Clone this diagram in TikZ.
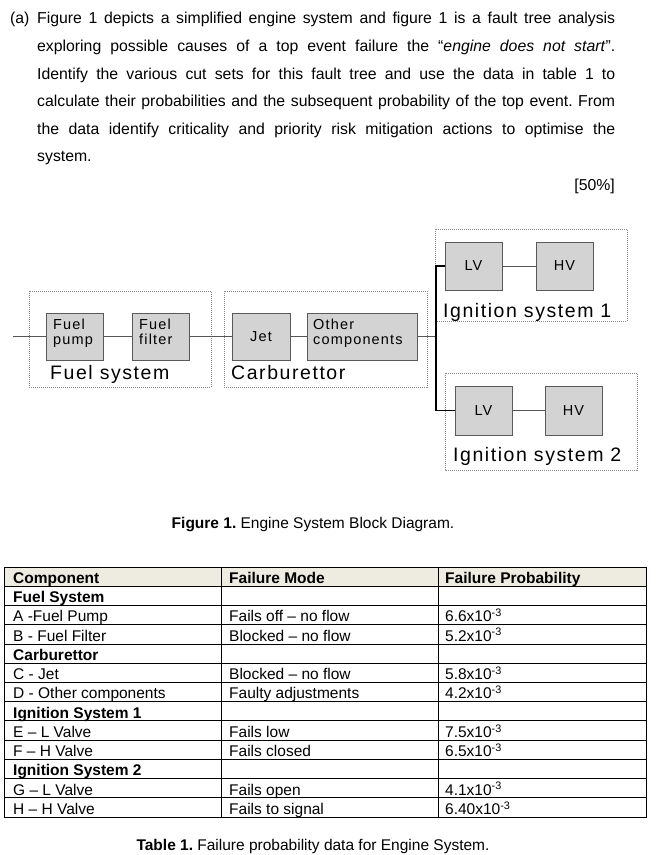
\documentclass[tikz,border=0pt]{standalone}
\usepackage{fontspec}
\setmainfont{Liberation Sans}
\newfontfamily\blockfont[LetterSpace=8]{Liberation Sans}
\newfontfamily\groupfont[LetterSpace=8]{Liberation Sans}
\usepackage{tikz}
\definecolor{blockGray}{RGB}{211, 211, 211}
\definecolor{blockEdge}{RGB}{90, 90, 90}
\definecolor{groupEdge}{RGB}{140, 140, 140}
\definecolor{wireGray}{RGB}{85, 85, 85}
\definecolor{headBg}{RGB}{238, 236, 225}
\frenchspacing
\tikzset{
  block/.style={draw=blockEdge, fill=blockGray, line width=0.9pt, minimum width=57pt,
    minimum height=47pt, inner sep=0pt, font=\blockfont\fontsize{14.5}{15}\selectfont},
  blocktext/.style={anchor=north west, align=left, inner sep=0pt,
    font=\blockfont\fontsize{14.5}{15}\selectfont},
  group/.style={draw=groupEdge, line width=0.6pt, dash pattern=on 1pt off 1pt},
  grouplabel/.style={anchor=base west, inner sep=0pt, font=\groupfont\fontsize{19.5}{22}\selectfont},
  wire/.style={draw=wireGray, line width=0.9pt},
  junction/.style={draw=black, line width=1.1pt},
  cell/.style={anchor=base west, inner sep=0pt, font=\fontsize{15.5}{18}\selectfont},
  caption/.style={anchor=base, inner sep=0pt, font=\fontsize{15.5}{18}\selectfont},
  question/.style={inner sep=0pt, font=\fontsize{15.8}{27.6}\selectfont}
}
\begin{document}
\begin{tikzpicture}[x=1pt, y=-1pt]
  \useasboundingbox (0,0) rectangle (670,855);

  \node[question, anchor=base west] (qlabel) at (10,23.8) {(a)};
  \node[question, anchor=base west, text width=578pt, align=justify] (qtext) at (37,23.8)
    {Figure 1 depicts a simplified engine system and figure 1 is a fault tree analysis\linebreak
     exploring possible causes of a top event failure the “\textit{engine does not start}”.\linebreak
     Identify the various cut sets for this fault tree and use the data in table 1 to\linebreak
     calculate their probabilities and the subsequent probability of the top event. From\linebreak
     the data identify criticality and priority risk mitigation actions to optimise the\linebreak
     system.};
  \node[question, anchor=base east] (weight) at (615,190.5) {[50\%]};

  \draw[group] (29,291) rectangle (211,387);
  \draw[group] (224,291) rectangle (427,387);
  \draw[group] (435,229) rectangle (627,321);
  \draw[group] (445,373) rectangle (637,470);

  \node[block] (pump) at (74.5,336.5) {};
  \node[block] (filter) at (160.5,336.5) {};
  \node[block, minimum width=58pt] (jet) at (261,336.5) {Jet};
  \node[block, minimum width=110pt] (other) at (362,336.5) {};
  \node[block, minimum height=48pt] (lv1) at (473.5,266) {LV};
  \node[block, minimum height=48pt] (hv1) at (564.5,266) {HV};
  \node[block, minimum height=49pt] (lv2) at (483.5,410.5) {LV};
  \node[block, minimum height=49pt] (hv2) at (573.5,410.5) {HV};

  \node[blocktext] (pump-t) at (53,318.4) {Fuel\\pump};
  \node[blocktext] (filter-t) at (139,318.4) {Fuel\\filter};
  \node[blocktext] (other-t) at (313,318.4) {Other\\components};

  \node[grouplabel] (fuel-l) at (50,379) {Fuel system};
  \node[grouplabel] (carb-l) at (231,379) {Carburettor};
  \node[grouplabel] (ign1-l) at (443,317) {Ignition system 1};
  \node[grouplabel] (ign2-l) at (453,461.5) {Ignition system 2};

  \coordinate (in) at (13,336.5);
  \coordinate (jn) at (436,336.5);
  \draw[wire] (in) -- (pump);
  \draw[wire] (pump) -- (filter);
  \draw[wire] (filter) -- (jet);
  \draw[wire] (jet) -- (other);
  \draw[wire] (other) -- (jn);
  \draw[junction] (lv1.west) -| (jn) |- (lv2.west);
  \draw[wire] (lv1) -- (hv1);
  \draw[wire] (lv2) -- (hv2);

  \node[caption] (figcap) at (313,528) {\textbf{Figure 1.} Engine System Block Diagram.};

  \fill[headBg] (4,567) rectangle (646,586.2);
  \foreach \r in {1,...,12}
    \draw[line width=0.7pt] (4,{567+19.23*\r}) -- (646,{567+19.23*\r});
  \foreach \x in {221,438}
    \draw[line width=0.7pt] (\x,567) -- (\x,817);
  \draw[line width=0.9pt] (4,567) rectangle (646,817);

  \foreach \comp/\mode/\prob [count=\r from 0] in {
      {\textbf{Component}}/{\textbf{Failure Mode}}/{\textbf{Failure Probability}},
      {\textbf{Fuel System}}/{}/{},
      {A -Fuel Pump}/{Fails off – no flow}/{6.6x10\textsuperscript{-3}},
      {B - Fuel Filter}/{Blocked – no flow}/{5.2x10\textsuperscript{-3}},
      {\textbf{Carburettor}}/{}/{},
      {C - Jet}/{Blocked – no flow}/{5.8x10\textsuperscript{-3}},
      {D - Other components}/{Faulty adjustments}/{4.2x10\textsuperscript{-3}},
      {\textbf{Ignition System 1}}/{}/{},
      {E – L Valve}/{Fails low}/{7.5x10\textsuperscript{-3}},
      {F – H Valve}/{Fails closed}/{6.5x10\textsuperscript{-3}},
      {\textbf{Ignition System 2}}/{}/{},
      {G – L Valve}/{Fails open}/{4.1x10\textsuperscript{-3}},
      {H – H Valve}/{Fails to signal}/{6.40x10\textsuperscript{-3}}} {
    \node[cell] (comp\r) at (13,{567+19.23*\r+16.5}) {\comp};
    \node[cell] (mode\r) at (229,{567+19.23*\r+16.5}) {\mode};
    \node[cell] (prob\r) at (445,{567+19.23*\r+16.5}) {\prob};
  }

  \node[caption] (tabcap) at (313,850) {\textbf{Table 1.} Failure probability data for Engine System.};
\end{tikzpicture}
\end{document}
